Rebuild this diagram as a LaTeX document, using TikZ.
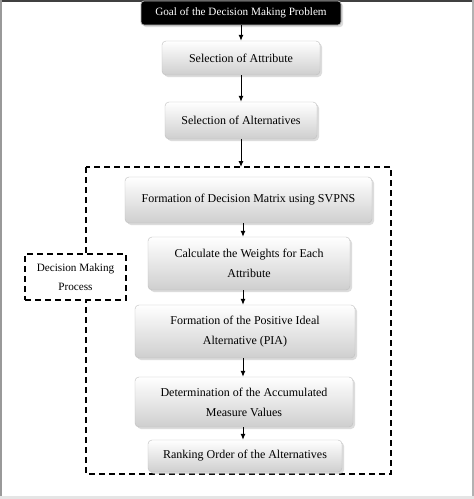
\documentclass[tikz,border=0pt]{standalone}
\usepackage{fontspec}
\setmainfont{Liberation Serif}
\usetikzlibrary{shadows,arrows.meta}
\tikzset{
  box/.style={draw=gray!50, line width=0.4pt, rounded corners=4pt, top color=white, bottom color=gray!38,
    drop shadow={shadow xshift=2pt, shadow yshift=-2pt, fill=gray!45, opacity=0.6},
    align=center, inner sep=2pt, font=\fontsize{12pt}{20pt}\selectfont, text=black},
  goalbox/.style={draw=gray!60, line width=0.8pt, rounded corners=3pt, fill=black, text=white,
    drop shadow={shadow xshift=2pt, shadow yshift=-2pt, fill=gray!40, opacity=0.7},
    align=center, inner sep=2pt, font=\fontsize{11.2pt}{13pt}\selectfont},
  dbox/.style={draw=black, dashed, dash pattern=on 6pt off 4pt, line width=1.5pt},
  arr/.style={-{Latex[length=6pt,width=5pt]}, line width=1pt, black}
}
\begin{document}
\begin{tikzpicture}[x=1pt,y=-1pt]
\useasboundingbox (0,0) rectangle (474,499);
\fill[white] (0,0) rectangle (474,499);
% frame
\draw[line width=3pt, black!75] (0,0) -- (474,0);
\draw[line width=3pt, gray!80] (0,0) -- (0,499);
\draw[line width=2pt, gray!60] (473,0) -- (473,499);
\draw[line width=4pt, gray!20] (0,498) -- (474,498);

% dashed container
\draw[dbox] (86,167) rectangle (391,474);
\node[dbox, fill=white, minimum width=101pt, minimum height=46pt, inner sep=0pt, align=center,
  font=\fontsize{11.2pt}{19pt}\selectfont] (dmp) at (75.5,277) {Decision Making\\Process};

\node[goalbox, minimum width=200pt, minimum height=24pt] (goal) at (241,13) {Goal of the Decision Making Problem};
\node[box, minimum width=158pt, minimum height=34pt] (attr) at (241,58) {Selection of Attribute};
\node[box, minimum width=152pt, minimum height=37pt] (alts) at (241,120.5) {Selection of Alternatives};
\node[box, minimum width=247pt, minimum height=46pt] (matrix) at (248.5,200) {Formation of Decision Matrix using SVPNS};
\node[box, minimum width=202pt, minimum height=53pt] (weights) at (249,263.5) {Calculate the Weights for Each\\Attribute};
\node[box, minimum width=220pt, minimum height=53pt] (pia) at (245,331.5) {Formation of the Positive Ideal\\Alternative (PIA)};
\node[box, minimum width=218pt, minimum height=50pt] (accum) at (244,402) {Determination of the Accumulated\\Measure Values};
\node[box, minimum width=194pt, minimum height=32pt] (rank) at (245,456) {Ranking Order of the Alternatives};

\coordinate (c1) at (241,0);
\coordinate (c2) at (243,0);
\coordinate (top) at (241,167);
\draw[arr] (goal.south -| c1) -- (attr.north -| c1);
\draw[arr] (attr.south -| c1) -- (alts.north -| c1);
\draw[arr] (alts.south -| c1) -- (top);
\draw[arr] (matrix.south -| c2) -- (weights.north -| c2);
\draw[arr] (weights.south -| c2) -- (pia.north -| c2);
\draw[arr] (pia.south -| c2) -- (accum.north -| c2);
\draw[arr] (accum.south -| c2) -- (rank.north -| c2);
\end{tikzpicture}
\end{document}
